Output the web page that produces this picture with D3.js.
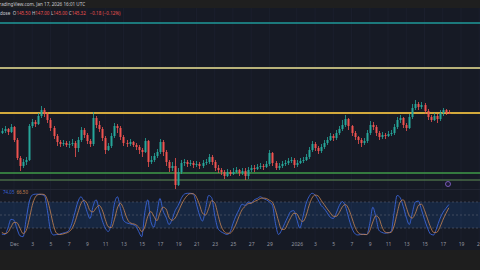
<!DOCTYPE html>
<html lang="en">
<head>
<meta charset="UTF-8" />
<title>Chart</title>
<script src="https://cdn.jsdelivr.net/npm/d3@7"></script>
<style>
  html, body { margin: 0; padding: 0; background: #1e1e1e; }
  svg { display: block; }
  text { font-family: "Noto Sans", "DejaVu Sans", sans-serif; }
</style>
</head>
<body>
<svg width="480" height="270"></svg>
<script>
// 8h candles, from Nov 29 16:00 UTC
const firstOpen = 135.5;
const closes = [136.5,137.5,136,138.5,132,123,119,121,122,139,141,140,144,147,145,142,138,134,131,130,
  130.5,129.5,130,130.5,128,132,137,134.5,131.5,130,143,139.5,137.5,133,127,129,134,139,138,133.5,
  130.5,130,131,129.5,128.5,127,126,131.5,121,122,124,126,131,126,121,118,119,109.5,116,120.5,
  121,120,120.5,119.5,120,119,120.5,121,123.5,121,118,117,116,114,116,115,116,117,115.5,116.5,
  114,117,118,117.5,118.5,119,118.5,120,125.5,120.5,118,119,120,120.5,121.5,122,119.5,120.5,121.5,122,
  123.5,127,130,128,126.5,128.5,130.5,132,134,133,135.5,137.5,139.5,142.5,139,135.5,133.5,132,130.5,131.5,
  135.5,139.5,138.5,135.5,133.5,134.5,134,135,135.5,138.5,142,143,139.5,138,143.5,148,150,148.5,149.5,146.5,
  143.5,142,144,142.5,145.5,147,145.5,145.32];
const highs = [138,139,138,140,139,133,124,122.5,123.5,140,142.5,142,145.5,149,148,146,143,139,135,132,
  132,131.5,131.5,132.5,131.5,133.5,138.5,138,135.5,132.5,146,144,141.5,138.5,134,130.5,135.5,140.5,140,139,
  134.5,132,132.5,131.5,130.5,129.5,128,133,132,124,125.5,127.5,132.5,132,127,122,121,123,118,122,
  122.5,122,122,121.5,121.5,121,122,122.5,125,124.5,122,119.5,118,117,117.5,117,118,118.5,117.5,118,
  118,118.5,119.5,119.5,120,120.5,120,121.5,127,126,121.5,120.5,121.5,122,123,123.5,123,122,123,123.5,
  125,128.5,131.5,131,129,130,132,133.5,135.5,135,137,139,142,144.5,143,139.5,136.5,134,133,133,
  137,141.5,141,139.5,136.5,136,135.5,136.5,137,140,143.5,144.5,143.5,140.5,145,150,152,151,151,150.5,
  147.5,144.5,145.5,145,147,148,147.5,147];
const lows = [135,135.5,134.5,135.5,131,122,116.5,118,119.5,121.5,138,138.5,139.5,143,143.5,140.5,136.5,132.5,129,128.5,
  129,128.5,128,129,123.5,126,131,133,130,128.5,129,138,136,131.5,125,126.5,128,133,135.5,132,
  129,128.5,129,128.5,127,125,123.5,125.5,118.5,120,121,123,125,124,119,116,116.5,107.5,109,115,
  119,118.5,119,118,118.5,117.5,118,119.5,120,119.5,116.5,115.5,114.5,112.5,113.5,114,114.5,115.5,114,114.5,
  112,112.5,116,116,117,117.5,117,118,119,119,117,117,118,119,119.5,120.5,118,118.5,120,120.5,
  121.5,122.5,126,126.5,125,125.5,127.5,129.5,131.5,131.5,132,134.5,136.5,138.5,137,134,132,130,128.5,129.5,
  130.5,134.5,137,134,132,132.5,132.5,133.5,134,134.5,137.5,140.5,138,136.5,137.5,142.5,147,147,147.5,145,
  142,141,141.5,140.5,141.5,144,144.5,145];

// Stoch RSI
const stochK = [6,5,20,40,38,18,2,0,40,80,96,98,98,97,95,60,15,4,5,6,
  8,10,14,30,55,80,92,80,58,42,70,85,62,38,20,12,30,75,92,65,
  38,32,30,28,25,12,0,55,85,35,22,55,88,60,45,28,40,60,72,88,
  98,100,100,98,75,50,36,65,95,90,50,20,12,8,5,10,30,48,62,75,
  72,80,78,85,88,92,88,85,80,72,30,5,15,30,45,58,60,40,20,45,
  75,92,100,96,85,72,65,55,45,42,55,72,81,70,45,22,8,4,5,6,
  5,30,68,45,15,10,8,9,12,55,95,90,70,45,28,55,80,82,62,40,
  20,6,4,20,40,55,65,74.05];
const stochD = [10,7,10,22,33,32,19,7,14,40,72,91,97,98,97,84,57,26,8,5,
  6,8,11,18,33,55,76,84,77,60,57,66,72,62,40,23,21,39,66,77,
  65,45,33,30,28,22,12,22,47,58,47,37,55,68,64,44,38,43,57,73,
  86,95,99,99,91,74,54,50,65,83,78,53,27,13,8,8,15,29,47,62,
  70,76,77,81,84,88,89,88,84,79,61,36,17,17,30,44,54,53,40,35,
  47,71,89,96,94,84,74,64,55,47,47,56,69,74,65,46,25,11,6,5,
  5,14,34,48,43,23,11,9,10,25,54,80,85,68,48,43,54,72,75,61,
  41,22,10,10,21,38,53,66.5];

const levels = [190.5, 168, 145.5, 115.5, 112];
const tickDates = ['2025-12-01','2025-12-03','2025-12-05','2025-12-07','2025-12-09','2025-12-11',
  '2025-12-13','2025-12-15','2025-12-17','2025-12-19','2025-12-21','2025-12-23','2025-12-25',
  '2025-12-27','2025-12-29','2026-01-01','2026-01-03','2026-01-05','2026-01-07','2026-01-09',
  '2026-01-11','2026-01-13','2026-01-15','2026-01-17','2026-01-19','2026-01-21'];
const tickLabels = ['Dec','3','5','7','9','11','13','15','17','19','21','23','25','27','29',
  '2026','3','5','7','9','11','13','15','17','19','21'];

const svg = d3.select('svg');
const W = 480, H = 270;

const start = Date.UTC(2025, 10, 29, 16);
const candles = closes.map((c, i) => ({
  t: new Date(start + i * 8 * 3600 * 1000),
  o: i === 0 ? firstOpen : closes[i - 1],
  h: highs[i], l: lows[i], c: c,
  k: stochK[i], d: stochD[i]
}));

const x = d3.scaleUtc()
  .domain([new Date(Date.UTC(2025, 11, 1)), new Date(Date.UTC(2026, 0, 19))])
  .range([14, 461]);
const y = d3.scaleLinear().domain([152, 107]).range([100, 190]);
const yOsc = d3.scaleLinear().domain([0, 100]).range([236.7, 193.3]);

// backgrounds
svg.append('rect').attr('width', W).attr('height', H).attr('fill', '#1e1e1e');
svg.append('rect').attr('y', 8).attr('width', W).attr('height', 242).attr('fill', '#161a25');

// vertical grid
svg.append('g').selectAll('line')
  .data(tickDates)
  .join('line')
  .attr('x1', d => x(new Date(d))).attr('x2', d => x(new Date(d)))
  .attr('y1', 8).attr('y2', 240)
  .attr('stroke', '#1b1f2d').attr('stroke-width', 1);

// pane separator
svg.append('line').attr('x1', 0).attr('x2', W).attr('y1', 189.5).attr('y2', 189.5)
  .attr('stroke', '#222633');

// horizontal levels
const levelColors = ['#1f9a9a', '#b8b27a', '#d2a93c', '#3f9a48', '#5f8f57'];
const levelWidths = [1.5, 2, 2, 1.6, 1];
svg.append('g').selectAll('line')
  .data(levels)
  .join('line')
  .attr('x1', 0).attr('x2', W)
  .attr('y1', d => y(d)).attr('y2', d => y(d))
  .attr('stroke', (d, i) => levelColors[i])
  .attr('stroke-width', (d, i) => levelWidths[i]);

// candles
const up = '#26a69a', down = '#ef5350';
const cg = svg.append('g');
cg.selectAll('line')
  .data(candles)
  .join('line')
  .attr('x1', d => Math.round(x(d.t)) + 0.5).attr('x2', d => Math.round(x(d.t)) + 0.5)
  .attr('y1', d => y(d.h)).attr('y2', d => y(d.l))
  .attr('stroke', d => d.c >= d.o ? up : down)
  .attr('stroke-width', 0.8);
cg.selectAll('rect')
  .data(candles)
  .join('rect')
  .attr('x', d => Math.round(x(d.t)) - 0.5)
  .attr('width', 2)
  .attr('y', d => y(Math.max(d.o, d.c)))
  .attr('height', d => Math.max(0.8, Math.abs(y(d.o) - y(d.c))))
  .attr('fill', d => d.c >= d.o ? up : down);

// marker
svg.append('circle').attr('cx', 448).attr('cy', 184).attr('r', 2.5)
  .attr('fill', '#1d1a33').attr('stroke', '#8e6ad8').attr('stroke-width', 0.8);

// stoch rsi pane
svg.append('rect')
  .attr('x', 0).attr('width', W)
  .attr('y', yOsc(80)).attr('height', yOsc(20) - yOsc(80))
  .attr('fill', 'rgba(33,120,243,0.14)');
svg.append('g').selectAll('line')
  .data([80, 50, 20])
  .join('line')
  .attr('x1', 0).attr('x2', W)
  .attr('y1', d => yOsc(d)).attr('y2', d => yOsc(d))
  .attr('stroke', '#5d6273').attr('stroke-width', 0.6)
  .attr('stroke-dasharray', '2,2');

const kLine = d3.line().x(d => x(d.t)).y(d => yOsc(d.k)).curve(d3.curveMonotoneX);
const dLine = d3.line().x(d => x(d.t)).y(d => yOsc(d.d)).curve(d3.curveMonotoneX);
svg.append('path').datum(candles).attr('d', kLine)
  .attr('fill', 'none').attr('stroke', '#3a64d8').attr('stroke-width', 0.9);
svg.append('path').datum(candles).attr('d', dLine)
  .attr('fill', 'none').attr('stroke', '#c98552').attr('stroke-width', 0.8);

svg.append('text').attr('x', 3).attr('y', 194).attr('font-size', 4.5)
  .call(t => {
    t.append('tspan').attr('fill', '#3a64d8').text(d3.format('.2f')(stochK[stochK.length - 1]));
    t.append('tspan').attr('dx', 2).attr('fill', '#c98552').text(d3.format('.2f')(stochD[stochD.length - 1]));
  });

// x axis
const xAxis = d3.axisBottom(x)
  .tickValues(tickDates.map(d => new Date(d)))
  .tickFormat((d, i) => tickLabels[i])
  .tickSize(0)
  .tickPadding(0);
const ax = svg.append('g').attr('transform', 'translate(0,242)').call(xAxis);
ax.select('.domain').remove();
ax.selectAll('text').attr('fill', '#9598a1').attr('font-size', 5)
  .attr('font-family', '"Noto Sans", sans-serif');

// top bar + legend
svg.append('rect').attr('width', W).attr('height', 8).attr('fill', '#1f1f1f');
svg.append('text').attr('x', -3).attr('y', 5.5).attr('font-size', 4.6).attr('fill', '#c9cbd1')
  .text('TradingView.com, Jan 17, 2026 16:01 UTC');

const last = candles[candles.length - 1];
const chg = last.c - last.o;
const legend = svg.append('text').attr('x', 0).attr('y', 15).attr('font-size', 4.5);
legend.append('tspan').attr('fill', '#c9cbd1').text('dose ');
[['O', last.o], ['H', last.h], ['L', last.l], ['C', last.c]].forEach(([k, v]) => {
  legend.append('tspan').attr('fill', '#c9cbd1').attr('dx', 1.5).text(k);
  legend.append('tspan').attr('fill', down).text(d3.format('.2f')(v));
});
legend.append('tspan').attr('fill', down).attr('dx', 4)
  .text(d3.format('+.2f')(chg).replace('-', '−') + ' (' + d3.format('+.2%')(chg / last.o).replace('-', '−') + ')');
</script>
</body>
</html>
